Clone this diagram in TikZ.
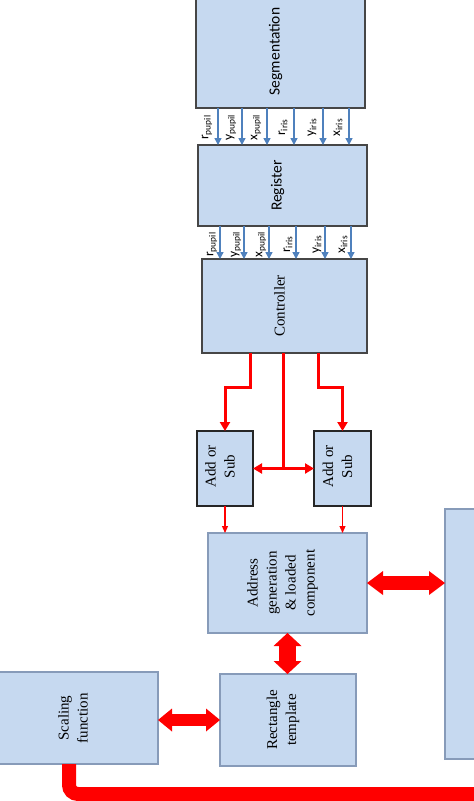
\documentclass[tikz,border=0pt]{standalone}
\usepackage{fontspec}
\setmainfont{Liberation Serif}
\newfontfamily\calibri{Carlito}
\usetikzlibrary{arrows.meta,calc}
\definecolor{boxfill}{RGB}{198,217,240}
\definecolor{boxdark}{RGB}{70,70,70}
\definecolor{boxlight}{RGB}{135,155,185}
\definecolor{arrowblue}{RGB}{79,129,189}
\definecolor{pured}{RGB}{255,0,0}
\begin{document}
\begin{tikzpicture}[x=1pt,y=-1pt,
  box/.style={fill=boxfill, draw=boxlight, line width=1.2pt, inner sep=0pt, outer sep=0pt},
  darkbox/.style={box, draw=boxdark},
  blackbox/.style={box, draw=black!85},
  serif/.style={xshift=-5pt, rotate=90, align=center, font=\fontsize{15}{19}\selectfont},
  sans/.style={xshift=-5pt, rotate=90, align=center, font=\calibri\fontsize{15.5}{19}\selectfont},
  sig/.style={rotate=90, inner sep=0pt, font=\calibri\fontsize{13.5}{15}\selectfont},
  barrow/.style={draw=arrowblue, line width=1.5pt, -{Triangle[length=7pt,width=7pt]}},
  rline/.style={draw=pured, line width=3pt},
  rarrow/.style={rline, -{Triangle[length=9pt,width=10pt]}},
  thinarrow/.style={draw=pured, line width=1.2pt, -{Triangle[length=7pt,width=6pt]}},
  fat/.style n args={3}{draw=pured, line width=#1,
    {Triangle[length=#2,width=#3,line width=0pt]}-{Triangle[length=#2,width=#3,line width=0pt]}}
]
\useasboundingbox (0,0) rectangle (474,801);
\fill[white] (0,0) rectangle (474,801);
\clip (0,0) rectangle (474,801);

% boxes
\node[darkbox, minimum width=169pt, minimum height=113pt] (seg) at (280.5,51.5) {};
\node[darkbox, minimum width=169pt, minimum height=81pt] (reg) at (282.5,185.5) {};
\node[darkbox, minimum width=165pt, minimum height=94pt] (ctrl) at (284.5,306) {};
\node[blackbox, minimum width=56pt, minimum height=75pt] (add1) at (225,468.5) {};
\node[blackbox, minimum width=57pt, minimum height=75pt] (add2) at (342.5,468.5) {};
\node[box, minimum width=159pt, minimum height=100pt] (addr) at (287.5,583) {};
\node[box, minimum width=136pt, minimum height=92pt] (rect) at (288,720) {};
\node[box, minimum width=160pt, minimum height=92pt] (scal) at (78,718) {};
\node[box, minimum width=45pt, minimum height=250pt] (mem) at (467.5,634) {};

% texts
\node[sans] (seg-t) at (seg) {Segmentation};
\node[sans] (reg-t) at (reg) {Register};
\node[serif] (ctrl-t) at (ctrl) {Controller};
\node[serif, xshift=2pt] (add1-t) at (add1) {Add or\\Sub};
\node[serif, xshift=2pt] (add2-t) at (add2) {Add or\\Sub};
\node[serif] (addr-t) at (addr) {Address\\generation\\\& loaded\\component};
\node[serif] (rect-t) at (rect) {Rectangle\\template};
\node[serif] (scal-t) at (scal) {Scaling\\function};

% signal arrows
\foreach \i/\xa/\xb/\lab in {1/218/220/{r\textsubscript{pupil}}, 2/242/244/{y\textsubscript{pupil}}, 3/267/269/{x\textsubscript{pupil}}, 4/294/296/{r\textsubscript{iris}}, 5/323/325/{y\textsubscript{iris}}, 6/349/351/{x\textsubscript{iris}}}{
  \coordinate (a\i) at (\xa,0);
  \coordinate (b\i) at (\xb,0);
  \draw[barrow] (seg.south -| a\i) -- (reg.north -| a\i);
  \draw[barrow] (reg.south -| b\i) -- (ctrl.north -| b\i);
  \node[sig] (la\i) at ($(seg.south -| a\i)!0.5!(reg.north -| a\i) + (-11,1)$) {\lab};
  \node[sig] (lb\i) at ($(reg.south -| b\i)!0.5!(ctrl.north -| b\i) + (-8,2)$) {\lab};
}

% controller outputs
\coordinate (cl) at (250,0);
\coordinate (cm) at (283,0);
\coordinate (cr) at (318,0);
\draw[rarrow] (ctrl.south -| cl) -- ++(0,34) -| (add1.north);
\draw[rarrow] (ctrl.south -| cr) -- ++(0,34) -| (add2.north);
\coordinate (junc) at (add1.east -| cm);
\draw[rline] (ctrl.south -| cm) -- (junc);
\draw[rline, {Triangle[length=9pt,width=10pt]}-{Triangle[length=9pt,width=10pt]}] (add1.east) -- (add2.west);

% add/sub to address
\draw[thinarrow] (add1.south) -- (addr.north -| add1.south);
\draw[thinarrow] (add2.south) -- (addr.north -| add2.south);

% thick double arrows
\draw[fat={14pt}{16pt}{24pt}] (addr.east) -- (mem.west |- addr.east);
\draw[fat={17pt}{13pt}{28pt}] (addr.south) -- (rect.north -| addr.south);
\draw[fat={12pt}{14pt}{23pt}] (scal.east |- rect.west) -- (rect.west);

% bottom feedback line
\coordinate (fbend) at (500,794);
\draw[draw=pured, line width=14pt, rounded corners=9pt] ($(scal.south)+(-9,0)$) |- (fbend);
\end{tikzpicture}
\end{document}
